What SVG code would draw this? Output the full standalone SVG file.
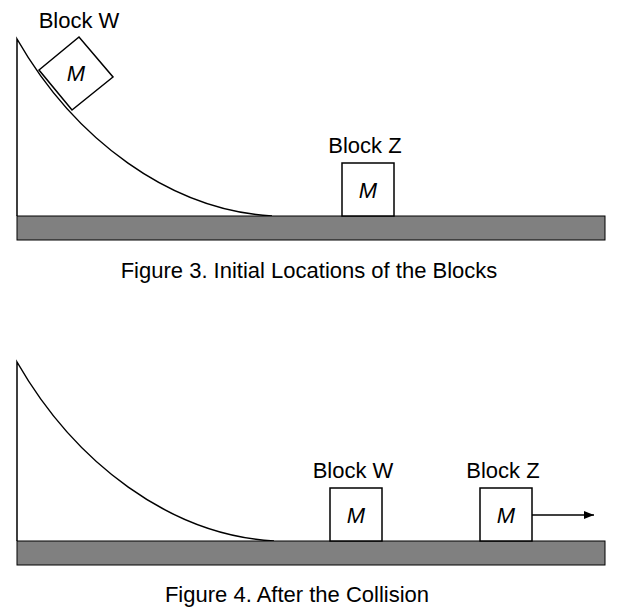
<svg xmlns="http://www.w3.org/2000/svg" width="625" height="616" viewBox="0 0 625 616">
<style>
.t{font-family:"Liberation Sans",Arial,sans-serif;font-size:22px;fill:#000}
.m{font-family:"Liberation Sans",Arial,sans-serif;font-size:22px;font-style:italic;fill:#000}
.s{fill:none;stroke:#000;stroke-width:1.5}
.b{fill:#fff;stroke:#000;stroke-width:1.5}
.g{fill:#808080;stroke:#000;stroke-width:1}
</style>
<defs><marker id="ah" markerWidth="10" markerHeight="8" refX="10" refY="4" orient="auto" markerUnits="userSpaceOnUse"><path d="M0,0 L10,4 L0,8 Z" fill="#000"/></marker></defs>
<rect width="625" height="616" fill="#fff"/>
<g id="fig3-ramp"><path class="s" d="M17,216 L17,39 C75,140 170,210 272,216"/><rect class="g" x="17" y="216" width="588" height="24"/></g>
<g id="fig3-blockW"><polygon class="b" points="39,70 79,37 113,77 72,110"/><text class="m" x="76" y="81" text-anchor="middle">M</text><text class="t" x="79" y="28" text-anchor="middle">Block W</text></g>
<g id="fig3-blockZ"><rect class="b" x="342" y="163" width="52" height="53"/><text class="m" x="368" y="198" text-anchor="middle">M</text><text class="t" x="365" y="153" text-anchor="middle">Block Z</text></g>
<text class="t" x="309" y="278" text-anchor="middle">Figure 3. Initial Locations of the Blocks</text>
<g id="fig4-ramp"><path class="s" d="M17,541 L17,362 C75,463 170,535 274,541"/><rect class="g" x="17" y="541" width="588" height="24"/></g>
<g id="fig4-blockW"><rect class="b" x="330" y="488" width="52" height="53"/><text class="m" x="356" y="523" text-anchor="middle">M</text><text class="t" x="353" y="478" text-anchor="middle">Block W</text></g>
<g id="fig4-blockZ"><rect class="b" x="480" y="488" width="52" height="53"/><text class="m" x="506" y="523" text-anchor="middle">M</text><text class="t" x="503" y="478" text-anchor="middle">Block Z</text></g>
<g id="connectors"><line x1="532" y1="515" x2="594" y2="515" stroke="#000" stroke-width="1.3" marker-end="url(#ah)"/></g>
<text class="t" x="297" y="602" text-anchor="middle">Figure 4. After the Collision</text>
</svg>
